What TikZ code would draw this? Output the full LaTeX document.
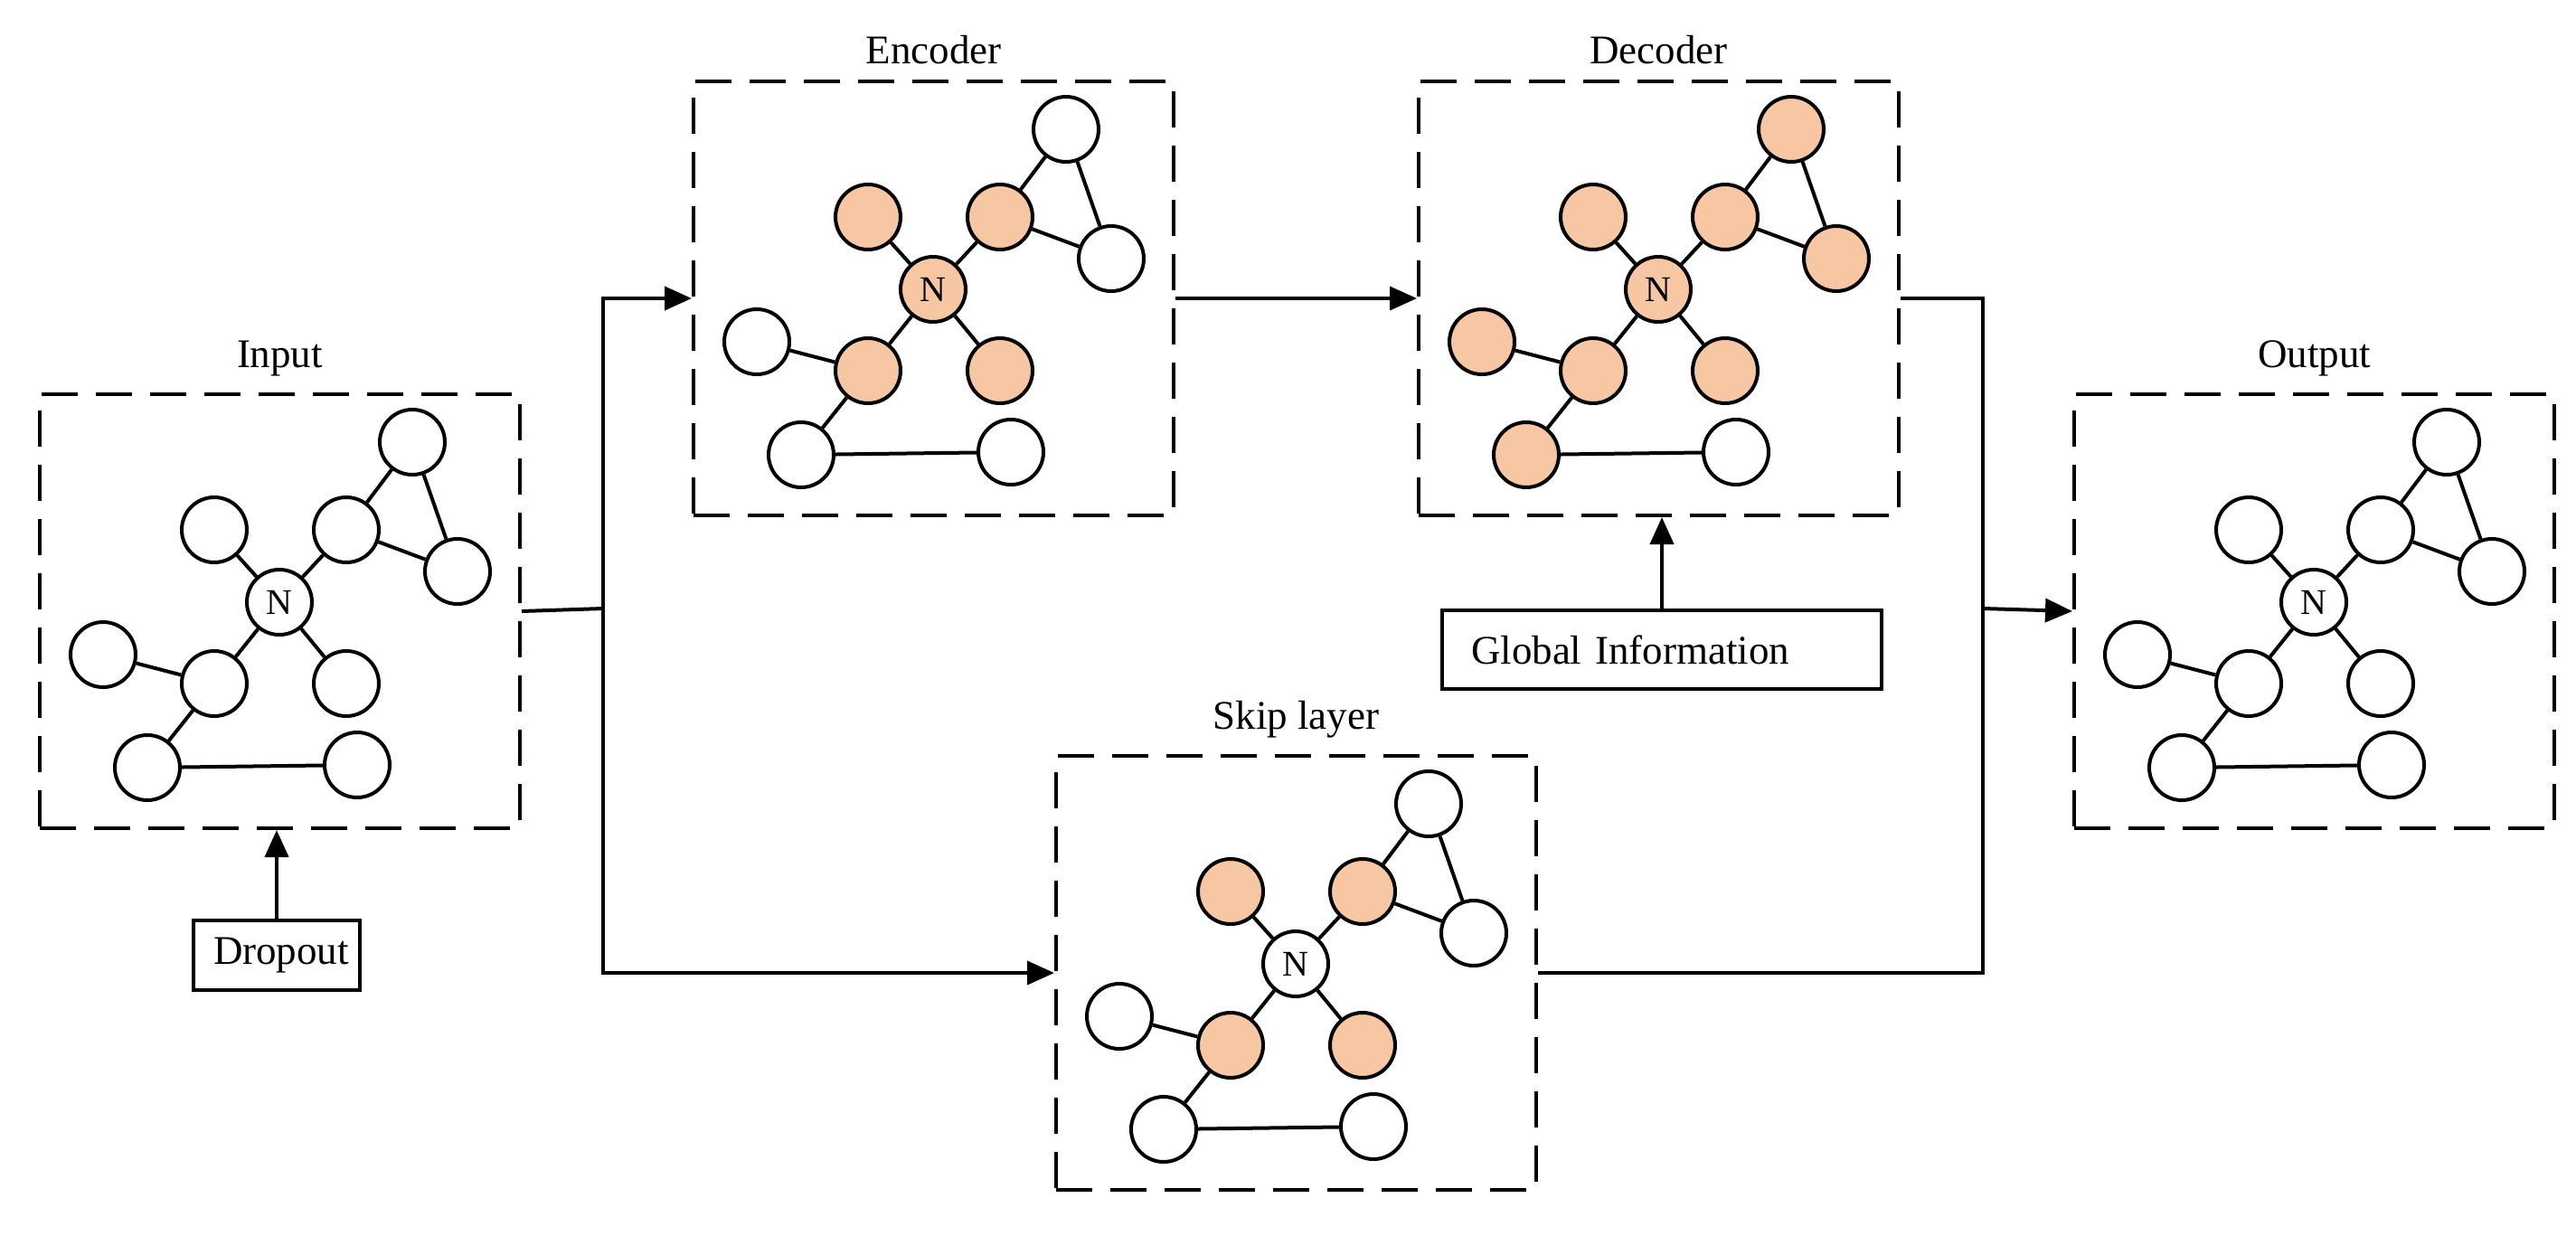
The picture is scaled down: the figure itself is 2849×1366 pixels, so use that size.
\documentclass[tikz,border=0pt]{standalone}
\usepackage{fontspec}
\setmainfont{Liberation Serif}
\usetikzlibrary{arrows.meta}
\definecolor{peach}{HTML}{F7C6A3}
\tikzset{
  nd/.style={circle,draw,line width=4pt,minimum size=72pt,inner sep=0pt,fill=white,font=\fontsize{40}{40}\selectfont},
  hl/.style={fill=peach},
  edge/.style={line width=4pt},
  box/.style={draw,line width=4pt,dash pattern=on 40pt off 20pt,minimum width=531pt,minimum height=480pt,anchor=north west,inner sep=0pt},
  lbl/.style={font=\fontsize{45}{45}\selectfont,above=14pt},
  txtbox/.style={draw,line width=4pt,font=\fontsize{45}{45}\selectfont,align=left,anchor=north west,inner ysep=0pt},
  ln/.style={line width=4pt},
  arr/.style={line width=4pt,-{Triangle[length=30pt,width=26pt]}},
  sT/.style={},sUL/.style={},sRa/.style={},sRb/.style={},sN/.style={},sL/.style={},sM/.style={},sD/.style={},sBa/.style={},sBb/.style={}
}
\newcommand\mygraph[3]{%
 \begin{scope}[shift={(#2,#3)}]
  \node[nd,sT] (#1T) at (414,55) {};
  \node[nd,sUL] (#1UL) at (195,152) {};
  \node[nd,sRa] (#1Ra) at (341,152) {};
  \node[nd,sRb] (#1Rb) at (464,198) {};
  \node[nd,sN] (#1N) at (267,232) {N};
  \node[nd,sL] (#1L) at (72,290) {};
  \node[nd,sM] (#1M) at (195,322) {};
  \node[nd,sD] (#1D) at (341,322) {};
  \node[nd,sBa] (#1Ba) at (121,415) {};
  \node[nd,sBb] (#1Bb) at (353,412) {};
  \draw[edge] (#1UL)--(#1N) (#1N)--(#1Ra) (#1Ra)--(#1T) (#1T)--(#1Rb) (#1Ra)--(#1Rb)
    (#1N)--(#1M) (#1N)--(#1D) (#1L)--(#1M) (#1M)--(#1Ba) (#1Ba)--(#1Bb);
 \end{scope}}
\begin{document}
\begin{tikzpicture}[x=1pt,y=-1pt]
\useasboundingbox (0,0) rectangle (2849,1366);
\node[box] (inp) at (42,434) {};
\node[box] (enc) at (765,88) {};
\node[box] (dec) at (1567,88) {};
\node[box] (skp) at (1166,834) {};
\node[box] (out) at (2292,434) {};
\node[lbl] at (inp.north) {Input};
\node[lbl] at (enc.north) {Encoder};
\node[lbl] at (dec.north) {Decoder};
\node[lbl] at (skp.north) {Skip layer};
\node[lbl] at (out.north) {Output};
\mygraph{i}{42}{434}
\mygraph{o}{2292}{434}
\begin{scope}
 \tikzset{sUL/.style={hl},sRa/.style={hl},sN/.style={hl},sM/.style={hl},sD/.style={hl}}
 \mygraph{e}{765}{88}
\end{scope}
\begin{scope}
 \tikzset{sT/.style={hl},sUL/.style={hl},sRa/.style={hl},sRb/.style={hl},sN/.style={hl},sL/.style={hl},sM/.style={hl},sD/.style={hl},sBa/.style={hl}}
 \mygraph{d}{1567}{88}
\end{scope}
\begin{scope}
 \tikzset{sUL/.style={hl},sRa/.style={hl},sM/.style={hl},sD/.style={hl}}
 \mygraph{s}{1166}{834}
\end{scope}
\node[txtbox,text width=140pt,inner xsep=22pt,minimum height=77pt] (drop) at (212,1016) {Dropout};
\node[txtbox,text width=422pt,inner xsep=32pt,minimum height=87pt] (gi) at (1593,673) {Global Information};
\coordinate (j1) at (667,673);
\coordinate (j2) at (2193,673);
\draw[ln] (inp.east) -- (j1);
\draw[arr] (j1) |- (enc.west);
\draw[arr] (j1) |- (skp.west);
\draw[arr] (enc.east) -- (dec.west);
\draw[ln] (dec.east) -| (j2);
\draw[ln] (skp.east) -| (j2);
\draw[arr] (j2) -- (out.west);
\draw[arr] (drop.north) -- (drop.north |- inp.south);
\draw[arr] (gi.north) -- (gi.north |- dec.south);
\end{tikzpicture}
\end{document}
